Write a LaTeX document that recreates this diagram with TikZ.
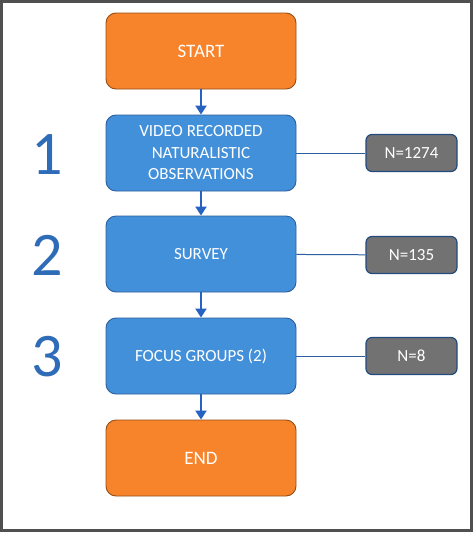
\documentclass[tikz,border=0pt]{standalone}
\usepackage{fontspec}
\setmainfont{Carlito}
\usetikzlibrary{arrows.meta}
\definecolor{orangefill}{HTML}{F7832A}
\definecolor{bluefill}{HTML}{4390DA}
\definecolor{blueedge}{HTML}{2D5E9E}
\definecolor{arrowblue}{HTML}{2562C2}
\definecolor{grayfill}{HTML}{727272}
\definecolor{numblue}{HTML}{2F6CB8}
\definecolor{framegray}{HTML}{505050}
\tikzset{
  base/.style={rounded corners=10pt, draw=blueedge, line width=0.9pt, minimum width=190pt, minimum height=76pt, text=white, align=center, inner sep=0pt},
  termbox/.style={base, fill=orangefill, draw=orangefill!60!black, font=\fontsize{19}{22}\selectfont},
  stepbox/.style={base, fill=bluefill, font=\fontsize{17}{21.5}\selectfont},
  nbox/.style={rounded corners=6pt, draw=blueedge!80!black, line width=1.2pt, fill=grayfill, minimum width=91pt, minimum height=37pt, text=white, font=\fontsize{17}{20}\selectfont, inner sep=0pt},
  numlabel/.style={text=numblue, font=\fontsize{62}{62}\selectfont},
  flow/.style={draw=arrowblue, line width=2.6pt, -{Triangle[length=9pt,width=11pt]}},
  link/.style={draw=blueedge, line width=1pt}
}
\begin{document}
\begin{tikzpicture}[x=1pt,y=-1pt]
\useasboundingbox (0,0) rectangle (474,533);
\fill[white] (0,0) rectangle (474,533);
\draw[framegray, line width=3pt] (1.5,1.5) rectangle (471,530.5);
\node[termbox] (start) at (201,51) {START};
\node[stepbox] (s1) at (201,153) {VIDEO RECORDED\\NATURALISTIC\\OBSERVATIONS};
\node[stepbox] (s2) at (201,254) {SURVEY};
\node[stepbox] (s3) at (201,356) {FOCUS GROUPS (2)};
\node[termbox] (end) at (201,458) {END};
\node[nbox] (n1) at (411.5,153) {N=1274};
\node[nbox] (n2) at (411.5,255) {N=135};
\node[nbox] (n3) at (411.5,356) {N=8};
\node[numlabel] (l1) at (47,155) {1};
\node[numlabel] (l2) at (47,255) {2};
\node[numlabel] (l3) at (47,357) {3};
\draw[flow] (start) -- (s1);
\draw[flow] (s1) -- (s2);
\draw[flow] (s2) -- (s3);
\draw[flow] (s3) -- (end);
\draw[link] (s1) -- (n1);
\draw[link] (s2) -- (n2);
\draw[link] (s3) -- (n3);
\end{tikzpicture}
\end{document}
